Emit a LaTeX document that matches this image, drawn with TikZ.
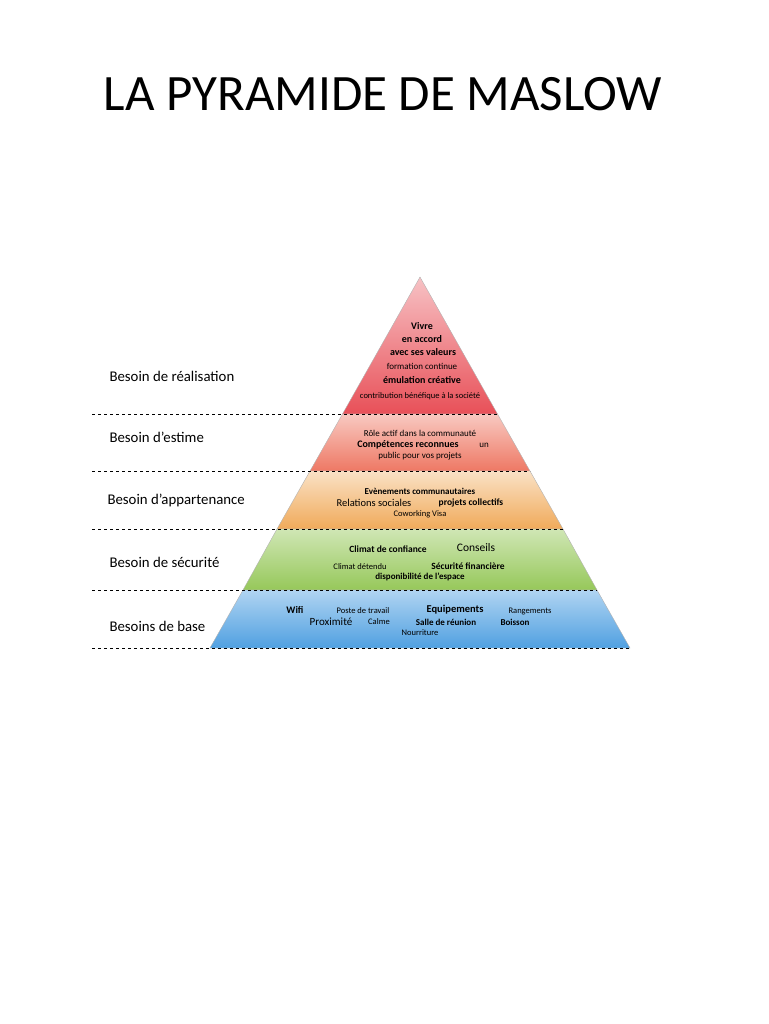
\documentclass[tikz,border=0pt]{standalone}
\usepackage{fontspec}
\setmainfont{Carlito}
\definecolor{realcolor}{RGB}{232,80,88}
\definecolor{estcolor}{RGB}{238,120,100}
\definecolor{appcolor}{RGB}{240,170,90}
\definecolor{seccolor}{RGB}{150,200,90}
\definecolor{basecolor}{RGB}{80,160,225}
\tikzset{
    band/.style={draw=gray!60, line width=0.4pt},
    level/.style={anchor=west, font=\fontsize{14.8}{17}\selectfont},
    divider/.style={dashed, line width=0.8pt},
    item/.style={font=\fontsize{9}{10}\selectfont, inner sep=0pt},
    bitem/.style={font=\fontsize{10}{11}\selectfont\bfseries, inner sep=0pt}
}
\begin{document}
\begin{tikzpicture}[x=1pt, y=-1pt]
\useasboundingbox (0,0) rectangle (768,1024);

% Title
\node[font=\fontsize{51}{55}\selectfont] (title) at (383,94) {LA PYRAMIDE DE MASLOW};

% Pyramid corners
\coordinate (apex) at (420,277);
\coordinate (l1) at (342.5,414); \coordinate (r1) at (497.5,414);
\coordinate (l2) at (310,471);   \coordinate (r2) at (530,471);
\coordinate (l3) at (277,529);   \coordinate (r3) at (563,529);
\coordinate (l4) at (243,590);   \coordinate (r4) at (597,590);
\coordinate (l5) at (210,648);   \coordinate (r5) at (630,648);

% Bands
\shade[band, top color=realcolor!35, bottom color=realcolor] (apex) -- (r1) -- (l1) -- cycle;
\shade[band, top color=estcolor!40, bottom color=estcolor] (l1) -- (r1) -- (r2) -- (l2) -- cycle;
\shade[band, top color=appcolor!35, bottom color=appcolor] (l2) -- (r2) -- (r3) -- (l3) -- cycle;
\shade[band, top color=seccolor!45, bottom color=seccolor] (l3) -- (r3) -- (r4) -- (l4) -- cycle;
\shade[band, top color=basecolor!45, bottom color=basecolor] (l4) -- (r4) -- (r5) -- (l5) -- cycle;

% Dividers
\foreach \y/\r in {414/r1, 471/r2, 529/r3, 590/r4, 648/r5}
    \draw[divider] (92,\y) -- (\r);

% Level names
\node[level] (lreal) at (106,376) {Besoin de réalisation};
\node[level] (lest) at (106,437) {Besoin d’estime};
\node[level] (lapp) at (104,500) {Besoin d’appartenance};
\node[level] (lsec) at (106,562) {Besoin de sécurité};
\node[level] (lbase) at (106,626) {Besoins de base};

% Réalisation
\node[bitem] (t1) at (422,326) {Vivre};
\node[bitem] (t2) at (422,339) {en accord};
\node[bitem] (t3) at (423,352) {avec ses valeurs};
\node[item] (t4) at (422,366) {formation continue};
\node[bitem] (t5) at (422,380) {émulation créative};
\node[item, font=\fontsize{8.5}{10}\selectfont] (t6) at (420,396) {contribution bénéfique à la société};

% Estime
\node[item] (e1) at (420,433) {Rôle actif dans la communauté};
\node[bitem] (e2) at (408,445) {Compétences reconnues};
\node[item] (e3) at (484,445) {un};
\node[item] (e4) at (420,456) {public pour vos projets};

% Appartenance
\node[bitem, font=\fontsize{9}{10}\selectfont\bfseries] (a1) at (420,491) {Evènements communautaires};
\node[item, font=\fontsize{10.5}{12}\selectfont] (a2) at (374,503) {Relations sociales};
\node[bitem, font=\fontsize{9.5}{11}\selectfont\bfseries] (a3) at (471,503) {projets collectifs};
\node[item, font=\fontsize{8.5}{10}\selectfont] (a4) at (420,514) {Coworking Visa};

% Sécurité
\node[bitem, font=\fontsize{9.5}{11}\selectfont\bfseries] (s1) at (388,549) {Climat de confiance};
\node[item, font=\fontsize{11.5}{13}\selectfont] (s2) at (476,548) {Conseils};
\node[item, font=\fontsize{8.5}{10}\selectfont] (s3) at (360,567) {Climat détendu};
\node[bitem, font=\fontsize{9.5}{11}\selectfont\bfseries] (s4) at (468,566) {Sécurité financière};
\node[bitem, font=\fontsize{9}{10}\selectfont\bfseries] (s5) at (420,577) {disponibilité de l'espace};

% Base
\node[bitem] (b1) at (295,610) {Wifi};
\node[item, font=\fontsize{8.5}{10}\selectfont] (b2) at (363,611) {Poste de travail};
\node[bitem, font=\fontsize{10.5}{12}\selectfont\bfseries] (b3) at (455,610) {Equipements};
\node[item, font=\fontsize{8.5}{10}\selectfont] (b4) at (530,611) {Rangements};
\node[item, font=\fontsize{11}{12}\selectfont] (b5) at (331,622) {Proximité};
\node[item, font=\fontsize{8.5}{10}\selectfont] (b6) at (379,622) {Calme};
\node[bitem, font=\fontsize{9}{10}\selectfont\bfseries] (b7) at (446,622) {Salle de réunion};
\node[bitem, font=\fontsize{9}{10}\selectfont\bfseries] (b8) at (515,622) {Boisson};
\node[item, font=\fontsize{8.5}{10}\selectfont] (b9) at (420,633) {Nourriture};

\end{tikzpicture}
\end{document}
